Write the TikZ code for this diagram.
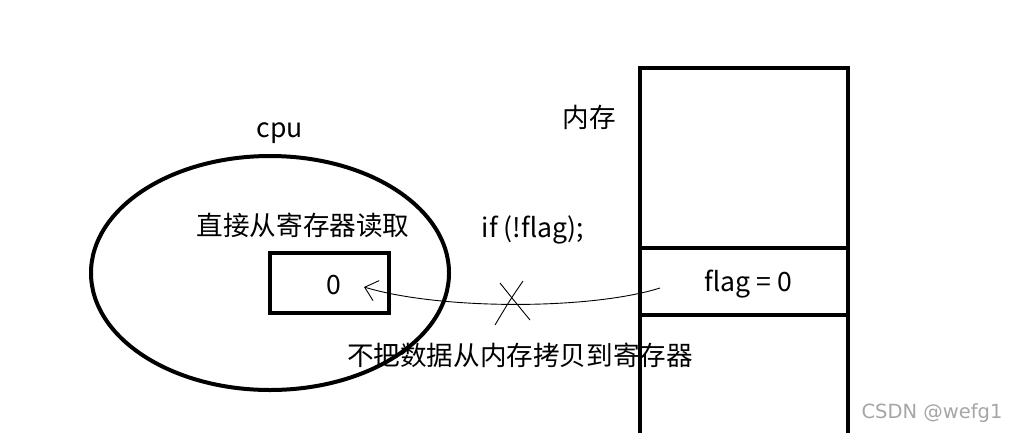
\documentclass[tikz,border=0pt]{standalone}
\usepackage{fontspec}
\setmainfont{Noto Sans CJK SC}
\newfontfamily\wmfont{DejaVu Sans}
\usetikzlibrary{arrows.meta}
\begin{document}
\begin{tikzpicture}[x=1pt,y=-1pt,
  thick line/.style={line width=4pt,draw=black},
  lbl/.style={font=\fontsize{26.6}{30}\selectfont,inner sep=0pt,anchor=center},
  thin/.style={line width=0.9pt,draw=black}]
\useasboundingbox[fill=white] (0,0) rectangle (1012,432);
% cpu ellipse
\draw[thick line] (270,273) ellipse [x radius=179, y radius=117];
\node[lbl] (cpu) at (280,133) {cpu};
\node[lbl] (read) at (303,225) {直接从寄存器读取};
% register box
\node[thick line,minimum width=119pt,minimum height=60pt,inner sep=0pt] (reg) at (329.5,283) {};
\node[lbl] (zero) at (334,285) {0};
% memory column
\draw[thick line] (640,434) -- (640,68) -- (848,68) -- (848,434);
\draw[thick line] (640,248) -- (848,248);
\draw[thick line] (640,315) -- (848,315);
\coordinate (flagcellw) at (660,288);
\node[lbl] (mem) at (589,117) {内存};
\node[lbl] (flag) at (748,284) {flag = 0};
\node[lbl] (cond) at (533,230) {if (!flag);};
\node[lbl] (nocopy) at (520,355) {不把数据从内存拷贝到寄存器};
% arrow
\coordinate (tip) at (364,287);
\draw[thin,-{Straight Barb[length=12pt,width=21pt,line width=0.9pt]}] (flagcellw) .. controls (590,310) and (440,310) .. (tip);
% cross
\coordinate (c1a) at (500,283); \coordinate (c1b) at (530,320);
\coordinate (c2a) at (523,281); \coordinate (c2b) at (495,325);
\draw[thin] (c1a) .. controls (512,298) .. (c1b);
\draw[thin] (c2a) .. controls (510,300) .. (c2b);
% watermark
\node[font=\wmfont\fontsize{19.5}{21}\selectfont,text=black!35,inner sep=0pt] (wm) at (932,413) {CSDN @wefg1};
\end{tikzpicture}
\end{document}
